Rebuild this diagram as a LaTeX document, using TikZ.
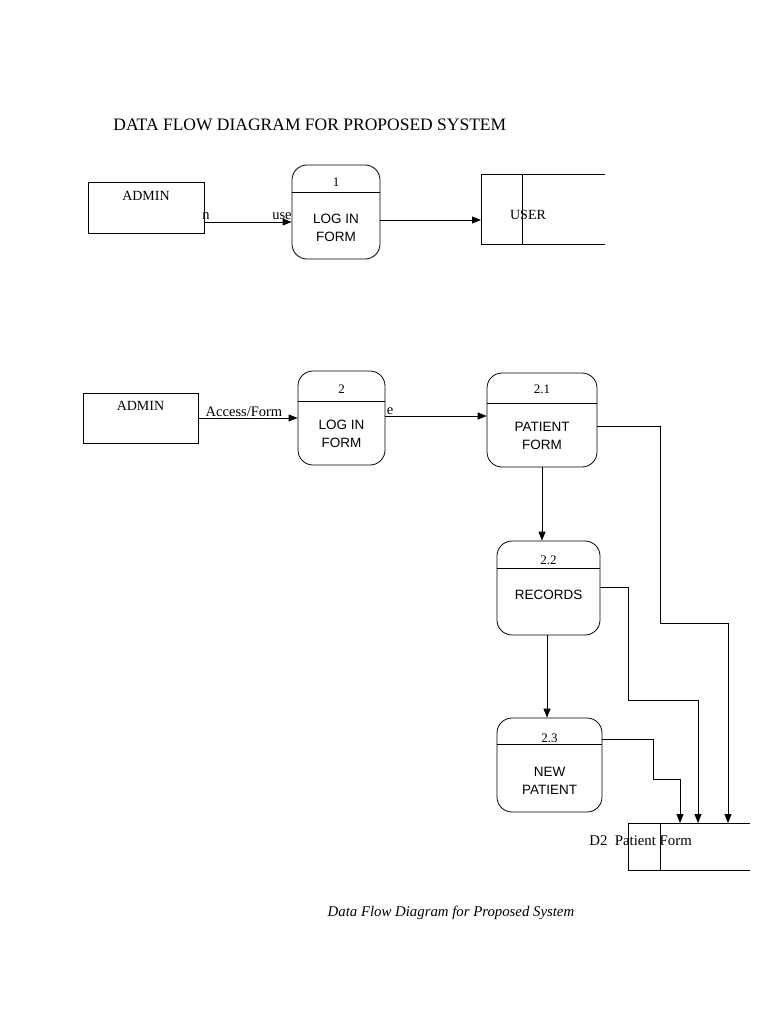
\documentclass[tikz,border=0pt]{standalone}
\usepackage{fontspec}
\setmainfont{Liberation Serif}
\setsansfont{Liberation Sans}
\usetikzlibrary{arrows.meta,calc}
\begin{document}
\begin{tikzpicture}[x=1pt,y=-1pt,
  line width=0.8pt,
  entity/.style={draw, rectangle, inner sep=0pt},
  proc/.style={draw, rounded corners=15pt, inner sep=0pt, minimum height=94pt},
  num/.style={font=\fontsize{13}{14}\selectfont, inner sep=0pt},
  ptext/.style={font=\sffamily\fontsize{13.5}{18}\selectfont, align=center, inner sep=0pt},
  stext/.style={font=\fontsize{14}{16}\selectfont, inner sep=0pt},
  lbl/.style={font=\fontsize{14.5}{16}\selectfont, inner sep=0pt},
  flow/.style={-{Triangle[length=9pt,width=7pt]}}]
\useasboundingbox (0,0) rectangle (768,1024);

% title
\node[font=\fontsize{17.5}{20}\selectfont, anchor=base west, inner sep=0pt] (title) at (113,131) {DATA FLOW DIAGRAM FOR PROPOSED SYSTEM};

% ---------- row 1 ----------
\node[entity, minimum width=116pt, minimum height=51pt] (admin1) at (146,207.5) {};
\node[stext] (admin1t) at (146,196) {ADMIN};
\node[proc, minimum width=88pt] (p1) at (336,212) {};
\draw (p1.west|-0,192) -- (p1.east|-0,192);
\node[num] (p1n) at (336,182) {1};
\node[ptext] (p1t) at (336,228) {LOG IN\\FORM};

% user store
\coordinate (u1) at (481,174);
\coordinate (u2) at (605,174);
\coordinate (u3) at (481,244);
\coordinate (u4) at (605,244);
\draw (u2) -- (u1) -- (u3) -- (u4);
\draw (522,174) -- (522,244);
\node[stext] (usert) at (528,215) {USER};

\draw[flow] (admin1.east|-0,222) -- (p1.west|-0,222);
\node[lbl] (l1a) at (206,216) {n};
\node[lbl] (l1b) at (282,216) {use};
\draw[flow] (p1.east|-0,220) -- (u1|-0,220);

% ---------- row 2 ----------
\node[entity, minimum width=115pt, minimum height=50pt] (admin2) at (140.5,418) {};
\node[stext] (admin2t) at (140.5,406) {ADMIN};
\node[proc, minimum width=87pt] (p2) at (341.5,418) {};
\draw (p2.west|-0,401) -- (p2.east|-0,401);
\node[num] (p2n) at (341.5,389) {2};
\node[ptext] (p2t) at (341.5,434) {LOG IN\\FORM};

\draw[flow] (admin2.east|-0,418) -- (p2.west|-0,418);
\node[lbl] (l2a) at (244,412) {Access/Form};

\node[proc, minimum width=110pt] (p21) at (542,420) {};
\draw (p21.west|-0,403) -- (p21.east|-0,403);
\node[num] (p21n) at (542,389) {2.1};
\node[ptext] (p21t) at (542,436) {PATIENT\\FORM};

\draw[flow] (p2.east|-0,416) -- (p21.west|-0,416);
\node[lbl] (l2b) at (390,411) {e};

\node[proc, minimum width=103pt] (p22) at (548.5,588) {};
\draw (p22.west|-0,568) -- (p22.east|-0,568);
\node[num] (p22n) at (548.5,560) {2.2};
\node[ptext] (p22t) at (548.5,595) {RECORDS};

\node[proc, minimum width=105pt] (p23) at (549.5,765) {};
\draw (p23.west|-0,744) -- (p23.east|-0,744);
\node[num] (p23n) at (549.5,738) {2.3};
\node[ptext] (p23t) at (549.5,781) {NEW\\PATIENT};

\draw[flow] (542,467) -- (p22.north-|542,0);
\draw[flow] (547,635) -- (p23.north-|547,0);

% D2 store
\coordinate (d1) at (628,823);
\coordinate (d2) at (750,823);
\coordinate (d3) at (628,870);
\coordinate (d4) at (750,870);
\draw (d2) -- (d1) -- (d3) -- (d4);
\draw (660,823) -- (660,870);
\node[font=\fontsize{14.8}{16}\selectfont, inner sep=0pt, anchor=west] (d2t) at (589,841) {D2\ \ Patient Form};

% flows to D2
\coordinate (a1) at (660,426);
\coordinate (a2) at (660,623);
\coordinate (a3) at (728,623);
\draw[flow] (p21.east|-a1) -- (a1) -- (a2) -- (a3) -- (a3|-d1);

\coordinate (b1) at (628,587);
\coordinate (b2) at (628,700);
\coordinate (b3) at (698,700);
\draw[flow] (p22.east|-b1) -- (b1) -- (b2) -- (b3) -- (b3|-d1);

\coordinate (c1) at (653,739);
\coordinate (c2) at (653,779);
\coordinate (c3) at (680,779);
\draw[flow] (p23.east|-c1) -- (c1) -- (c2) -- (c3) -- (c3|-d1);

% caption
\node[font=\itshape\fontsize{14.8}{16}\selectfont, inner sep=0pt] (caption) at (451,913) {Data Flow Diagram for Proposed System};
\end{tikzpicture}
\end{document}
